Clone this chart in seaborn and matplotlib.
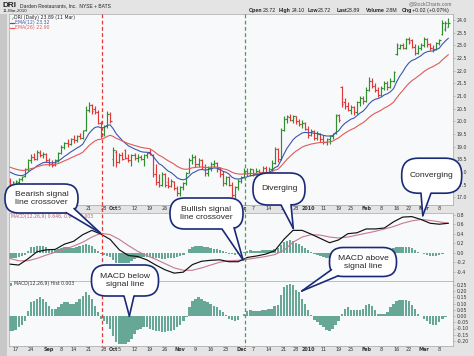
import numpy as np
import pandas as pd
import matplotlib
matplotlib.use("Agg")
import matplotlib.pyplot as plt
import seaborn as sns
from matplotlib.patches import FancyBboxPatch, Polygon, Rectangle

# trading days shown on the chart (DRI daily, Aug 2009 - Mar 2010)
holidays = ["2009-09-07", "2009-11-26", "2009-12-25", "2010-01-01", "2010-01-18", "2010-02-15"]
days = pd.bdate_range("2009-08-13", "2010-03-11")
days = days[~days.isin(pd.to_datetime(holidays))]

open_ = [17.65, 17.45, 17.50, 17.60, 17.70, 17.85, 18.10, 18.45, 18.60, 18.50,
         18.75, 18.65, 18.70, 18.45, 18.30, 18.30, 18.45, 18.75, 19.00, 19.15,
         19.10, 19.30, 19.25, 19.40, 19.35, 19.65, 20.45, 20.65, 20.50, 20.35,
         19.95, 19.50, 19.80, 20.30, 18.50, 18.80, 18.40, 18.65, 18.85, 18.55,
         18.45, 18.65, 18.55, 18.60, 18.50, 18.65, 18.75, 18.65, 17.90, 17.60,
         17.50, 17.90, 17.60, 17.45, 17.60, 17.35, 17.15, 17.40, 17.55, 17.95,
         18.45, 18.60, 18.30, 18.45, 18.20, 17.95, 18.15, 18.30, 18.35, 18.10,
         17.90, 17.55, 17.80, 17.50, 17.10, 17.40, 17.65, 17.80, 18.05, 17.95,
         18.10, 17.90, 18.05, 18.00, 18.15, 18.00, 18.10, 18.35, 18.90, 18.50,
         19.65, 20.10, 20.15, 20.05, 20.20, 20.00, 19.90, 19.95, 19.70, 19.45,
         19.60, 19.35, 19.50, 19.30, 19.20, 19.30, 19.40, 19.55, 20.25, 21.35,
         20.75, 20.60, 20.45, 20.55, 20.35, 20.75, 20.90, 20.80, 21.25, 21.60,
         21.40, 21.25, 21.05, 21.30, 21.50, 21.35, 21.60, 22.65, 22.90, 23.00,
         22.90, 23.25, 23.20, 22.95, 22.70, 22.90, 23.00, 23.25, 23.05, 22.90,
         22.85, 23.10, 23.45, 23.65, 23.72]
high = [17.75, 17.65, 17.68, 17.75, 17.85, 18.15, 18.50, 18.70, 18.75, 18.85,
        18.88, 18.80, 18.75, 18.55, 18.45, 18.50, 18.80, 19.05, 19.20, 19.30,
        19.35, 19.45, 19.45, 19.55, 19.65, 20.60, 20.75, 20.70, 20.60, 20.45,
        20.00, 19.85, 20.40, 20.38, 19.00, 18.85, 18.75, 18.80, 18.90, 18.70,
        18.70, 18.75, 18.70, 18.68, 18.70, 18.80, 18.90, 18.70, 18.30, 17.90,
        18.00, 17.95, 17.80, 17.70, 17.65, 17.45, 17.45, 17.60, 18.00, 18.55,
        18.70, 18.65, 18.55, 18.50, 18.30, 18.25, 18.40, 18.45, 18.40, 18.20,
        18.05, 17.85, 17.85, 17.60, 17.45, 17.70, 17.85, 18.15, 18.15, 18.15,
        18.12, 18.15, 18.10, 18.25, 18.25, 18.20, 18.45, 19.00, 18.95, 19.75,
        20.20, 20.25, 20.30, 20.25, 20.22, 20.10, 20.05, 19.98, 19.80, 19.70,
        19.65, 19.60, 19.55, 19.45, 19.35, 19.45, 19.55, 20.30, 20.28, 21.40,
        20.90, 20.75, 20.65, 20.60, 20.80, 21.00, 21.00, 21.35, 21.75, 21.70,
        21.50, 21.35, 21.40, 21.60, 21.60, 21.70, 22.00, 23.10, 23.05, 23.10,
        23.30, 23.35, 23.25, 23.05, 23.00, 23.10, 23.35, 23.30, 23.10, 23.00,
        23.15, 23.25, 24.00, 23.95, 24.10]
low = [17.40, 17.40, 17.45, 17.52, 17.62, 17.80, 18.05, 18.35, 18.45, 18.45,
       18.60, 18.55, 18.40, 18.25, 18.20, 18.25, 18.40, 18.70, 18.90, 19.00,
       19.05, 19.15, 19.20, 19.30, 19.30, 19.60, 20.35, 20.30, 20.30, 19.90,
       19.35, 19.40, 19.75, 19.95, 18.25, 18.20, 18.35, 18.45, 18.50, 18.40,
       18.25, 18.45, 18.40, 18.45, 18.25, 18.55, 18.65, 17.80, 17.50, 17.40,
       17.45, 17.40, 17.35, 17.40, 17.30, 17.05, 17.05, 17.30, 17.50, 17.95,
       18.30, 18.20, 18.20, 18.10, 17.85, 17.85, 18.05, 18.20, 18.00, 17.80,
       17.45, 17.50, 17.45, 17.00, 16.98, 17.30, 17.55, 17.75, 17.85, 17.85,
       17.82, 17.88, 17.90, 17.95, 17.95, 17.95, 18.05, 18.30, 18.40, 18.45,
       19.60, 19.95, 20.00, 19.95, 19.90, 19.80, 19.75, 19.65, 19.35, 19.40,
       19.25, 19.25, 19.20, 19.10, 19.05, 19.10, 19.30, 19.50, 19.98, 20.55,
       20.50, 20.40, 20.30, 20.25, 20.30, 20.60, 20.70, 20.75, 21.20, 21.30,
       21.15, 20.95, 21.00, 21.25, 21.25, 21.30, 21.55, 22.60, 22.85, 22.85,
       22.85, 23.05, 22.90, 22.60, 22.65, 22.80, 22.95, 22.95, 22.80, 22.75,
       22.80, 23.00, 23.40, 23.55, 23.72]
close = [17.45, 17.60, 17.62, 17.70, 17.80, 18.10, 18.45, 18.60, 18.50, 18.78,
         18.65, 18.72, 18.45, 18.30, 18.28, 18.45, 18.75, 19.00, 19.15, 19.10,
         19.30, 19.25, 19.40, 19.35, 19.60, 20.45, 20.65, 20.40, 20.35, 19.95,
         19.50, 19.80, 20.30, 20.00, 18.85, 18.40, 18.65, 18.50, 18.55, 18.45,
         18.65, 18.55, 18.60, 18.50, 18.65, 18.75, 18.70, 17.90, 17.60, 17.50,
         17.90, 17.50, 17.45, 17.62, 17.35, 17.15, 17.40, 17.55, 17.95, 18.45,
         18.60, 18.30, 18.45, 18.20, 17.95, 18.15, 18.30, 18.35, 18.10, 17.90,
         17.55, 17.80, 17.50, 17.10, 17.40, 17.65, 17.80, 18.05, 17.95, 18.10,
         17.90, 18.05, 18.00, 18.15, 18.00, 18.10, 18.35, 18.90, 18.50, 19.65,
         20.10, 20.20, 20.05, 20.20, 20.00, 19.90, 19.95, 19.70, 19.45, 19.60,
         19.35, 19.50, 19.30, 19.20, 19.30, 19.40, 19.50, 20.20, 20.05, 20.70,
         20.60, 20.45, 20.55, 20.35, 20.75, 20.90, 20.80, 21.25, 21.60, 21.40,
         21.25, 21.05, 21.30, 21.50, 21.35, 21.60, 21.95, 23.00, 23.00, 22.90,
         23.25, 23.15, 22.95, 22.70, 22.90, 23.00, 23.25, 23.05, 22.90, 22.85,
         23.10, 23.20, 23.90, 23.87, 23.89]
ema12_start = 18.10
ema26_start = 18.25

# MACD histogram, one value per day
hist = [-0.12, -0.12, -0.11, -0.09, -0.07, -0.04, 0.04, 0.11, 0.12, 0.14,
        0.15, 0.14, 0.11, 0.08, 0.06, 0.06, 0.07, 0.10, 0.11, 0.11,
        0.10, 0.10, 0.11, 0.14, 0.16, 0.19, 0.17, 0.14, 0.08, 0.03,
        -0.02, -0.04, -0.06, -0.10, -0.16, -0.21, -0.22, -0.22, -0.22, -0.21,
        -0.18, -0.14, -0.11, -0.10, -0.09, -0.09, -0.10, -0.11, -0.12, -0.12,
        -0.13, -0.13, -0.12, -0.12, -0.11, -0.09, -0.07, -0.04, -0.01, 0.07,
        0.12, 0.14, 0.15, 0.14, 0.12, 0.11, 0.10, 0.08, 0.07, 0.05,
        0.03, 0.01, -0.02, -0.03, -0.04, -0.03, 0.00, 0.02, 0.04, 0.05,
        0.04, 0.04, 0.04, 0.05, 0.05, 0.06, 0.06, 0.08, 0.09, 0.17,
        0.23, 0.25, 0.26, 0.25, 0.21, 0.19, 0.14, 0.10, 0.05, 0.01,
        -0.03, -0.05, -0.07, -0.09, -0.11, -0.12, -0.10, -0.07, -0.04, 0.02,
        0.06, 0.07, 0.05, 0.05, 0.05, 0.05, 0.06, 0.09, 0.10, 0.08,
        0.05, 0.02, 0.02, 0.02, 0.03, 0.07, 0.10, 0.12, 0.13, 0.13,
        0.13, 0.12, 0.09, 0.06, 0.02, 0.00, -0.02, -0.04, -0.06, -0.075,
        -0.07, -0.05, -0.02, -0.01, 0.003]

# MACD and signal lines, read every third trading day
line_step = 3
macd = [-0.24, -0.26, -0.13, 0.02, 0.06, 0.07, 0.18, 0.24, 0.38, 0.47,
        0.39, 0.28, 0.06, -0.06, -0.08, -0.15, -0.26, -0.36, -0.43, -0.41,
        -0.25, -0.18, -0.16, -0.15, -0.19, -0.19, -0.10, -0.07, -0.03, 0.04,
        0.28, 0.47, 0.47, 0.39, 0.30, 0.21, 0.27, 0.40, 0.42, 0.50,
        0.50, 0.52, 0.65, 0.75, 0.76, 0.70, 0.62, 0.60, 0.62]
signal = [-0.12, -0.17, -0.17, -0.12, -0.05, 0.01, 0.07, 0.14, 0.22, 0.33,
          0.41, 0.38, 0.28, 0.15, 0.03, -0.06, -0.14, -0.23, -0.32, -0.37,
          -0.37, -0.32, -0.26, -0.20, -0.17, -0.16, -0.14, -0.11, -0.08, -0.04,
          0.05, 0.22, 0.33, 0.38, 0.37, 0.33, 0.31, 0.33, 0.37, 0.41,
          0.45, 0.50, 0.55, 0.62, 0.67, 0.70, 0.68, 0.65, 0.62]

tick_dates = ["2009-08-17", "2009-08-24", "2009-09-01", "2009-09-08", "2009-09-14",
              "2009-09-21", "2009-09-28", "2009-10-01", "2009-10-05", "2009-10-12",
              "2009-10-19", "2009-10-26", "2009-11-02", "2009-11-09", "2009-11-16",
              "2009-11-23", "2009-12-01", "2009-12-07", "2009-12-14", "2009-12-21",
              "2009-12-28", "2010-01-04", "2010-01-11", "2010-01-19", "2010-01-25",
              "2010-02-01", "2010-02-08", "2010-02-16", "2010-02-22", "2010-03-01",
              "2010-03-08"]
tick_text = ["17", "24", "Sep", "8", "14", "21", "28", "Oct", "5", "12", "19", "26",
             "Nov", "9", "16", "23", "Dec", "7", "14", "21", "28", "2010", "11", "19",
             "25", "Feb", "8", "16", "22", "Mar", "8"]
month_labels = {"Sep", "Oct", "Nov", "Dec", "2010", "Feb", "Mar"}

price_ticks = [17.0, 17.5, 18.0, 18.5, 19.0, 19.5, 20.0, 20.5, 21.0, 21.5,
               22.0, 22.5, 23.0, 23.5, 24.0]
macd_ticks = [-0.4, -0.2, 0.0, 0.2, 0.4, 0.6, 0.8]
hist_ticks = [-0.20, -0.15, -0.10, -0.05, 0.00, 0.05, 0.10, 0.15, 0.20, 0.25]

GREEN = "#2e8f2e"
RED = "#e03838"
BLUE = "#3a56b0"
EMA_RED = "#e05a5a"
TEAL = "#67a795"
NAVY = "#1b2a78"
PANEL = "#f8f9fb"
CHROME = "#e4e4e4"

sns.set_style("white")
plt.rcParams["font.family"] = ["DejaVu Sans"]

W, H = 474, 356
fig = plt.figure(figsize=(W / 100, H / 100), dpi=100)
fig.patch.set_facecolor(CHROME)


def px_box(x0, y0, x1, y1):
    return [x0 / W, 1 - y1 / H, (x1 - x0) / W, (y1 - y0) / H]


ax_p = fig.add_axes(px_box(9, 14, 452.5, 205))
ax_m = fig.add_axes(px_box(9, 213, 452.5, 281))
ax_h = fig.add_axes(px_box(9, 281, 452.5, 346))

# price bars
x = np.arange(len(days))
o, hi, lo, c = map(np.array, (open_, high, low, close))
cols = np.where(c >= o, GREEN, RED)
ax_p.vlines(x, lo, hi, colors=cols, lw=0.85)
ax_p.hlines(o, x - 0.5, x, colors=cols, lw=0.85)
ax_p.hlines(c, x, x + 0.5, colors=cols, lw=0.85)

ema12 = pd.Series([ema12_start] + close).ewm(span=12, adjust=False).mean().to_numpy()[1:]
ema26 = pd.Series([ema26_start] + close).ewm(span=26, adjust=False).mean().to_numpy()[1:]
sns.lineplot(x=x, y=ema12, ax=ax_p, color=BLUE, linewidth=0.8)
sns.lineplot(x=x, y=ema26, ax=ax_p, color=EMA_RED, linewidth=0.8)

# MACD panel
xs = x[::line_step]
ax_m.bar(x, hist, width=0.8, color=TEAL, linewidth=0)
sns.lineplot(x=xs, y=signal, ax=ax_m, color="#c9798a", linewidth=0.8)
sns.lineplot(x=xs, y=macd, ax=ax_m, color="#111111", linewidth=0.85)

# histogram panel
ax_h.bar(x, hist, width=0.8, color=TEAL, linewidth=0)


def style(ax, ylim, yticks, fmt):
    ax.set_facecolor(PANEL)
    ax.set_xlim(-0.2, 145.35)
    ax.set_ylim(*ylim)
    ax.set_yticks(yticks, [fmt.format(v) for v in yticks])
    ax.yaxis.tick_right()
    ax.tick_params(axis="y", length=1.5, width=0.4, color="#999999",
                   labelsize=3.4, labelcolor="#333333", pad=1.5)
    ax.set_xlabel("")
    ax.set_ylabel("")
    for s in ax.spines.values():
        s.set_color("#a5a5a5")
        s.set_linewidth(0.5)


style(ax_p, (16.69, 24.24), price_ticks, "{:.1f}")
style(ax_m, (-0.596, 0.836), macd_ticks, "{:.1f}")
style(ax_h, (-0.24, 0.28), hist_ticks, "{:.2f}")

tick_pos = days.get_indexer(pd.to_datetime(tick_dates))
for ax in (ax_p, ax_h):
    ax.set_xticks(tick_pos, tick_text)
    ax.tick_params(axis="x", length=0, labelsize=3.5, labelcolor="#333333", pad=1.0)
    for lab in ax.get_xticklabels():
        if lab.get_text() in month_labels:
            lab.set_fontweight("bold")
ax_m.set_xticks([])

# overlay in image pixels for header, legends and callouts
ov = fig.add_axes([0, 0, 1, 1], zorder=10)
ov.set_xlim(0, W)
ov.set_ylim(H, 0)
ov.set_autoscale_on(False)
ov.axis("off")


def to_px(ax, xv, yv):
    return ov.transData.inverted().transform(ax.transData.transform((xv, yv)))


ov.add_patch(Rectangle((0, 14), 7, H - 14, color="#c8c8c8", lw=0, zorder=0))

hdr = dict(family="Liberation Sans", va="center", color="#222222")
ov.text(3, 5.5, "DRI", fontsize=5.9, fontweight="bold", **hdr)
ov.text(20.5, 5.5, "Darden Restaurants, Inc.  NYSE + BATS", fontsize=3.6, **hdr)
ov.text(3, 11, "11-Mar-2010", fontsize=3.2, **hdr)
ov.text(452, 4, "@StockCharts.com", fontsize=3.6, ha="right", family="Liberation Sans",
        va="center", color="#666666")
for txt, xp, bold in [("Open", 248.3, True), ("23.72", 263, False), ("High", 279, True),
                      ("24.10", 292, False), ("Low", 308, True), ("23.72", 317.5, False),
                      ("Last", 337, True), ("23.89", 347, False), ("Volume", 366, True),
                      ("2.8M", 386, False), ("Chg", 402, True), ("+0.02 (+0.07%)", 412, False)]:
    ov.text(xp, 10.8, txt, fontsize=3.8, fontweight="bold" if bold else "normal", **hdr)

# panel legends
ov.text(9.8, 17.4, "\u2713", color=GREEN, fontsize=3.4, va="center")
ov.text(14, 17.4, "DRI (Daily) 23.89 (11 Mar)", fontsize=3.3, va="center", color="#222222")
ov.plot([10, 14.5], [22.7, 22.7], color=BLUE, lw=0.9)
ov.text(15, 22.7, "EMA(12) 23.32", fontsize=3.3, va="center", color=BLUE)
ov.plot([10, 14.5], [28, 28], color=EMA_RED, lw=0.9)
ov.text(15, 28, "EMA(26) 22.90", fontsize=3.3, va="center", color=EMA_RED)
ov.text(11, 216.5, "MACD(12,26,9) 0.646, 0.643, 0.003", fontsize=3.3, va="center", color="#aa6677")
ov.add_patch(Rectangle((10, 282.5), 2.5, 3, color=TEAL, lw=0))
ov.text(14, 284, "MACD(12,26,9) Hist 0.003", fontsize=3.3, va="center", color="#333333")

# signal-crossover markers
for xv, col in ((30.42, "#e03a3a"), (77.25, "#3cab3c")):
    xp = to_px(ax_p, xv, 20)[0]
    ov.plot([xp, xp], [14, 346], color=col, lw=0.9, ls=(0, (3, 2)), zorder=2)


def callout(label, cx, cy, w, h, base, ax, tip):
    tx, ty = to_px(ax, *tip)
    ov.add_patch(FancyBboxPatch((cx - w / 2, cy - h / 2), w, h,
                                boxstyle=f"round,pad=0,rounding_size={min(w, h) * 0.47:.1f}",
                                fc="white", ec=NAVY, lw=1.2, zorder=5))
    inner = []
    for bx, by in base:
        dx, dy = bx - tx, by - ty
        d = np.hypot(dx, dy)
        inner.append((bx + dx / d * 4, by + dy / d * 4))
    ov.add_patch(Polygon([inner[0], (tx, ty), inner[1]], closed=True,
                         fc="white", ec="none", zorder=6))
    for bx, by in base:
        ov.plot([bx, tx], [by, ty], color=NAVY, lw=1.2, zorder=7, solid_capstyle="round")
    ov.text(cx, cy, label, ha="center", va="center", fontsize=6.1,
            family="Liberation Sans", linespacing=1.2, zorder=8)


callout("Bearish signal\nline crossover", 41.5, 198.5, 73, 29,
        [(66, 212.5), (74, 208.5)], ax_m, (29.7, 0.42))
callout("Bullish signal\nline crossover", 206.5, 213.5, 73, 31,
        [(222, 229), (234, 227.6)], ax_m, (76.6, -0.15))
callout("Diverging", 279, 189, 52, 32,
        [(281, 205), (291, 204.6)], ax_m, (93.1, 0.51))
callout("Converging", 431.7, 175.7, 60, 35,
        [(421, 193.2), (431, 193.2)], ax_m, (135.6, 0.78))
callout("MACD below\nsignal line", 125, 280.5, 67, 31,
        [(124, 296), (134, 296)], ax_h, (39.3, 0.0))
callout("MACD above\nsignal line", 363, 262, 67, 29,
        [(331.5, 269.7), (338.4, 275.7)], ax_h, (95.9, 0.20))

fig.savefig("out.png", dpi=100, facecolor=fig.get_facecolor())
